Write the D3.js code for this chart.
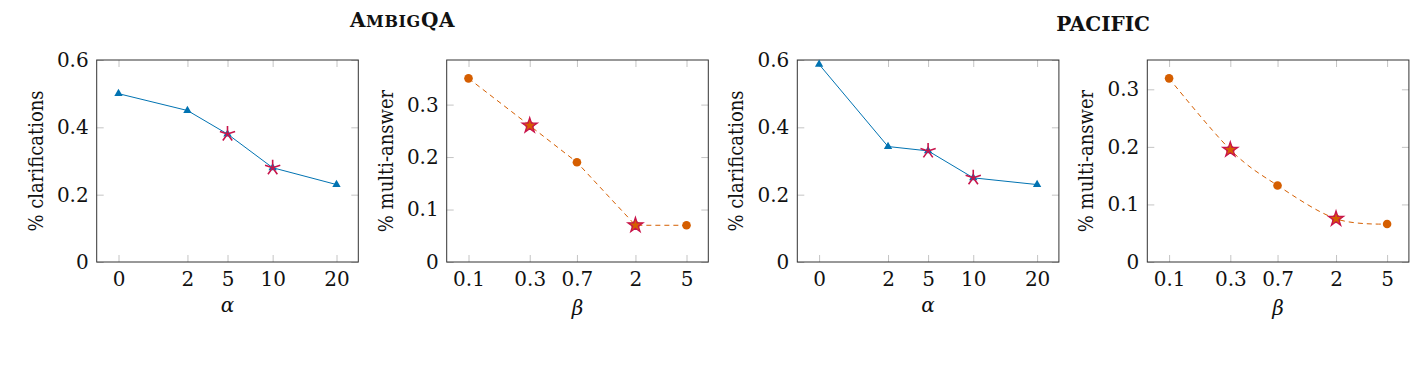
<!DOCTYPE html>
<html><head><meta charset="utf-8">
<script src="https://cdn.jsdelivr.net/npm/d3@7"></script>
<style>
html,body{margin:0;padding:0;background:#fff;}
svg{display:block;}
</style></head>
<body>
<svg id="chart" width="1425" height="390"></svg>
<script>
// ---------- data ----------
const alphaValues = [0, 2, 5, 10, 20];
const alphaLabels = ["0", "2", "5", "10", "20"];
const betaValues = [0.1, 0.3, 0.7, 2, 5];
const betaLabels = ["0.1", "0.3", "0.7", "2", "5"];
const ambigClarifications = [0.50, 0.45, 0.38, 0.28, 0.23];
const ambigMultiAnswer = [0.35, 0.26, 0.19, 0.07, 0.07];
const pacificClarifications = [0.587, 0.343, 0.33, 0.25, 0.23];
const pacificMultiAnswer = [0.319, 0.195, 0.133, 0.075, 0.066];
const alphaSelected = [5, 10];
const betaSelected = [0.3, 2];
const clarYTicks = [0, 0.2, 0.4, 0.6];
const clarYLabels = ["0", "0.2", "0.4", "0.6"];
const multiYTicks = [0, 0.1, 0.2, 0.3];
const multiYLabels = ["0", "0.1", "0.2", "0.3"];
const datasetTitles = ["AmbigQA", "PACIFIC"];

// ---------- style ----------
const BLUE = "#0173b2", ORANGE = "#d55e00", RED = "#c8144b";
const FONT = "'DejaVu Serif', serif";
const svg = d3.select("#chart");

const boxLefts = [96.7, 446.7, 797.3, 1147.3];
const boxW = 261.6, boxTop = 60, boxBottom = 262;

function sqrtXScale(vals, x0) {
  const s0 = Math.sqrt(d3.min(vals)), s1 = Math.sqrt(d3.max(vals));
  const pad = 0.1 * (s1 - s0);
  const lo = s0 - pad, hi = s1 + pad;
  return d3.scaleSqrt()
    .domain([lo < 0 ? -(lo * lo) : lo * lo, hi * hi])
    .range([x0, x0 + boxW]);
}
function logXScale(vals, x0) {
  const l0 = Math.log10(d3.min(vals)), l1 = Math.log10(d3.max(vals));
  const pad = 0.1 * (l1 - l0);
  return d3.scaleLog().domain([Math.pow(10, l0 - pad), Math.pow(10, l1 + pad)]).range([x0, x0 + boxW]);
}

function asteriskPath(r) {
  let p = "";
  for (let k = 0; k < 5; k++) {
    const a = -Math.PI / 2 + k * 2 * Math.PI / 5;
    p += `M0,0L${(r * Math.cos(a)).toFixed(2)},${(r * Math.sin(a)).toFixed(2)}`;
  }
  return p;
}

function panel(cfg) {
  const g = svg.append("g");
  const x = cfg.x, y = cfg.y;
  const x0 = cfg.left;
  const TL = 7;
  // axes (ticks inward, grey)
  const styleAxis = (sel) => {
    sel.select(".domain").remove();
    sel.selectAll(".tick line").attr("stroke", "#c4c4c4").attr("stroke-width", 1);
    sel.selectAll("text").attr("font-family", FONT).attr("font-size", 20).attr("fill", "#111");
  };
  g.append("g").attr("transform", `translate(0,${boxBottom})`)
    .call(d3.axisBottom(x).tickValues(cfg.xVals).tickFormat((d, i) => cfg.xLabels[i])
      .tickSizeInner(-TL).tickSizeOuter(0).tickPadding(10))
    .call(styleAxis);
  g.append("g").attr("transform", `translate(0,${boxTop})`)
    .call(d3.axisTop(x).tickValues(cfg.xVals).tickFormat("")
      .tickSizeInner(-TL).tickSizeOuter(0))
    .call(styleAxis);
  g.append("g").attr("transform", `translate(${x0},0)`)
    .call(d3.axisLeft(y).tickValues(cfg.yTicks).tickFormat((d, i) => cfg.yLabels[i])
      .tickSizeInner(-TL).tickSizeOuter(0).tickPadding(8))
    .call(styleAxis);
  g.append("g").attr("transform", `translate(${x0 + boxW},0)`)
    .call(d3.axisRight(y).tickValues(cfg.yTicks).tickFormat("")
      .tickSizeInner(-TL).tickSizeOuter(0))
    .call(styleAxis);
  // frame
  g.append("rect").attr("x", x0).attr("y", boxTop).attr("width", boxW).attr("height", boxBottom - boxTop)
    .attr("fill", "none").attr("stroke", "#333").attr("stroke-width", 1);

  const pts = cfg.xVals.map((v, i) => ({ v, val: cfg.values[i] }));
  const line = d3.line().x(d => x(d.v)).y(d => y(d.val));
  if (cfg.smooth) line.curve(d3.curveCatmullRom.alpha(0));
  g.append("path").datum(pts).attr("d", line)
    .attr("fill", "none").attr("stroke", cfg.color).attr("stroke-width", 1)
    .attr("stroke-dasharray", cfg.dashed ? "5,4" : null);

  if (cfg.marker === "triangle") {
    g.selectAll(".mk").data(pts).join("path")
      .attr("transform", d => `translate(${x(d.v)},${y(d.val)})`)
      .attr("d", d3.symbol(d3.symbolTriangle, 30)).attr("fill", cfg.color);
  } else {
    g.selectAll(".mk").data(pts).join("circle")
      .attr("cx", d => x(d.v)).attr("cy", d => y(d.val)).attr("r", 4.3).attr("fill", cfg.color);
  }
  const sel = pts.filter(d => cfg.selected.includes(d.v));
  if (cfg.starType === "asterisk") {
    g.selectAll(".st").data(sel).join("path")
      .attr("transform", d => `translate(${x(d.v)},${y(d.val)})`)
      .attr("d", asteriskPath(8)).attr("fill", "none").attr("stroke", RED).attr("stroke-width", 1.6);
  } else {
    g.selectAll(".st").data(sel).join("path")
      .attr("transform", d => `translate(${x(d.v)},${y(d.val)})`)
      .attr("d", d3.symbol(d3.symbolStar, 70)).attr("fill", cfg.color).attr("stroke", RED).attr("stroke-width", 1.3);
  }
  // labels
  g.append("text").attr("transform", `translate(${x0 - 54},${(boxTop + boxBottom) / 2}) rotate(-90)`)
    .attr("text-anchor", "middle").attr("font-family", FONT).attr("font-size", 20)
    .attr("font-stretch", "condensed").attr("fill", "#111").text(cfg.yTitle);
  g.append("text").attr("x", x0 + boxW / 2).attr("y", cfg.xTitleY)
    .attr("text-anchor", "middle").attr("font-family", FONT).attr("font-size", 20)
    .attr("font-style", "italic").attr("fill", "#111").text(cfg.xTitle);
}

const clarDomain = [0, 0.6];
panel({ left: boxLefts[0], x: sqrtXScale(alphaValues, boxLefts[0]),
  y: d3.scaleLinear().domain(clarDomain).range([boxBottom, boxTop]),
  xVals: alphaValues, xLabels: alphaLabels, yTicks: clarYTicks, yLabels: clarYLabels,
  values: ambigClarifications, color: BLUE, dashed: false, smooth: false, marker: "triangle",
  selected: alphaSelected, starType: "asterisk", yTitle: "% clarifications", xTitle: "α", xTitleY: 312 });
panel({ left: boxLefts[1], x: logXScale(betaValues, boxLefts[1]),
  y: d3.scaleLinear().domain([0, d3.max(ambigMultiAnswer) * 1.1]).range([boxBottom, boxTop]),
  xVals: betaValues, xLabels: betaLabels, yTicks: multiYTicks, yLabels: multiYLabels,
  values: ambigMultiAnswer, color: ORANGE, dashed: true, smooth: false, marker: "circle",
  selected: betaSelected, starType: "star", yTitle: "% multi-answer", xTitle: "β", xTitleY: 315 });
panel({ left: boxLefts[2], x: sqrtXScale(alphaValues, boxLefts[2]),
  y: d3.scaleLinear().domain(clarDomain).range([boxBottom, boxTop]),
  xVals: alphaValues, xLabels: alphaLabels, yTicks: clarYTicks, yLabels: clarYLabels,
  values: pacificClarifications, color: BLUE, dashed: false, smooth: false, marker: "triangle",
  selected: alphaSelected, starType: "asterisk", yTitle: "% clarifications", xTitle: "α", xTitleY: 312 });
panel({ left: boxLefts[3], x: logXScale(betaValues, boxLefts[3]),
  y: d3.scaleLinear().domain([0, d3.max(pacificMultiAnswer) * 1.1]).range([boxBottom, boxTop]),
  xVals: betaValues, xLabels: betaLabels, yTicks: multiYTicks, yLabels: multiYLabels,
  values: pacificMultiAnswer, color: ORANGE, dashed: true, smooth: true, marker: "circle",
  selected: betaSelected, starType: "star", yTitle: "% multi-answer", xTitle: "β", xTitleY: 315 });

// titles
const t1 = svg.append("text").attr("x", (boxLefts[0] + boxLefts[1] + boxW) / 2).attr("y", 27)
  .attr("text-anchor", "middle").attr("font-family", FONT).attr("font-weight", "bold")
  .attr("font-size", 20).attr("fill", "#111").attr("letter-spacing", 0.6);
t1.append("tspan").text(datasetTitles[0].slice(0, 1));
t1.append("tspan").attr("font-size", 16).text(datasetTitles[0].slice(1, 5).toUpperCase());
t1.append("tspan").text(datasetTitles[0].slice(5));
svg.append("text").attr("x", (boxLefts[2] + boxLefts[3] + boxW) / 2).attr("y", 31)
  .attr("text-anchor", "middle").attr("font-family", FONT).attr("font-weight", "bold")
  .attr("font-size", 20).attr("fill", "#111").text(datasetTitles[1]);
</script>
</body></html>
